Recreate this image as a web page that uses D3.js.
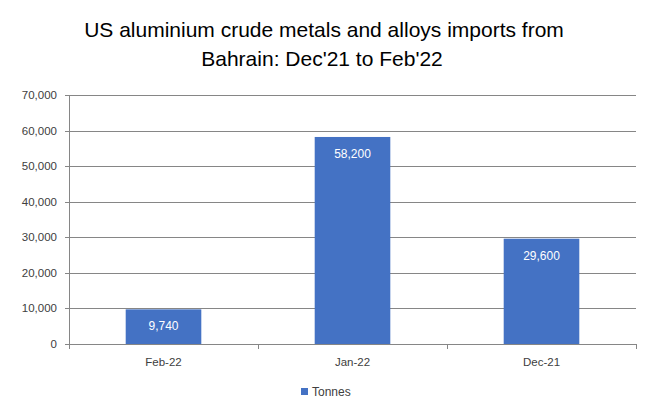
<!DOCTYPE html>
<html>
<head>
<meta charset="utf-8">
<script src="https://cdn.jsdelivr.net/npm/d3@7"></script>
<style>
  body { margin: 0; background: #fff; }
  svg text { font-family: "Liberation Sans", Arial, sans-serif; }
  .tick-label { font-size: 11.5px; fill: #404040; }
  .gridline { stroke: #868686; stroke-width: 1; shape-rendering: crispEdges; }
</style>
</head>
<body>
<div id="chart"></div>
<script>
// Monthly US imports of crude aluminium metals and alloys from Bahrain (tonnes).
const categories = ["Feb-22", "Jan-22", "Dec-21"];
const tonnes = [9740, 58200, 29600];
const yTicks = [0, 10000, 20000, 30000, 40000, 50000, 60000, 70000];
const titleLines = ["US aluminium crude metals and alloys imports from", "Bahrain: Dec'21 to Feb'22"];
const seriesName = "Tonnes";

const width = 647, height = 412;
const m = { top: 95, right: 11, bottom: 68, left: 69 };
const iW = width - m.left - m.right, iH = height - m.top - m.bottom;
const barColor = "#4472C4";
const fmt = d3.format(",");

const svg = d3.select("#chart").append("svg")
  .attr("width", width).attr("height", height)
  .attr("viewBox", `0 0 ${width} ${height}`);

svg.append("text").attr("text-anchor", "middle").attr("font-size", 21).attr("fill", "#000")
  .selectAll("tspan").data(titleLines).join("tspan")
  .attr("x", (d, i) => (i ? 322 : 324)).attr("y", (d, i) => 37 + i * 29).text((d) => d);

const g = svg.append("g").attr("transform", `translate(${m.left},${m.top})`);

const x = d3.scaleBand(categories, [0, iW]).paddingInner(0.6).paddingOuter(0.3);
const y = d3.scaleLinear([0, 70000], [iH, 0]);

// Horizontal gridlines with short tick stubs to the left of the axis.
g.append("g").selectAll("line").data(yTicks.filter((d) => d > 0)).join("line")
  .attr("class", "gridline")
  .attr("x1", -4).attr("x2", iW).attr("y1", (d) => Math.round(y(d)) + 0.5).attr("y2", (d) => Math.round(y(d)) + 0.5);

g.append("g").selectAll("text").data(yTicks).join("text")
  .attr("class", "tick-label").attr("text-anchor", "end")
  .attr("x", -12).attr("y", (d) => y(d)).attr("dy", "0.35em")
  .text((d) => fmt(d));

// Bars
g.append("g").selectAll("rect").data(tonnes).join("rect")
  .attr("x", (d, i) => x(categories[i])).attr("width", x.bandwidth())
  .attr("y", (d) => y(d)).attr("height", (d) => iH - y(d))
  .attr("fill", barColor);

g.append("g").selectAll("text").data(tonnes).join("text")
  .attr("text-anchor", "middle").attr("font-size", 12).attr("fill", "#fff")
  .attr("x", (d, i) => x(categories[i]) + x.bandwidth() / 2)
  .attr("y", (d) => y(d) + 21)
  .text((d) => fmt(d));

// Axes lines
g.append("line").attr("class", "gridline").attr("x1", 0.5).attr("x2", 0.5).attr("y1", 0).attr("y2", iH);
g.append("line").attr("class", "gridline").attr("x1", -4).attr("x2", iW).attr("y1", iH + 0.5).attr("y2", iH + 0.5);

// Category boundary ticks below x axis
const step = iW / categories.length;
g.append("g").selectAll("line").data(d3.range(categories.length + 1)).join("line")
  .attr("class", "gridline")
  .attr("x1", (i) => Math.round(i * step) + 0.5).attr("x2", (i) => Math.round(i * step) + 0.5)
  .attr("y1", iH).attr("y2", iH + 5);

g.append("g").selectAll("text").data(categories).join("text")
  .attr("class", "tick-label").attr("text-anchor", "middle")
  .attr("x", (d) => x(d) + x.bandwidth() / 2).attr("y", iH + 22)
  .text((d) => d);

// Legend
const lg = svg.append("g").attr("transform", "translate(301,388)");
lg.append("rect").attr("width", 7).attr("height", 7).attr("fill", barColor);
lg.append("text").attr("class", "tick-label").attr("font-size", 12).style("font-size", "12px")
  .attr("x", 11).attr("y", 8).text(seriesName);
</script>
</body>
</html>
